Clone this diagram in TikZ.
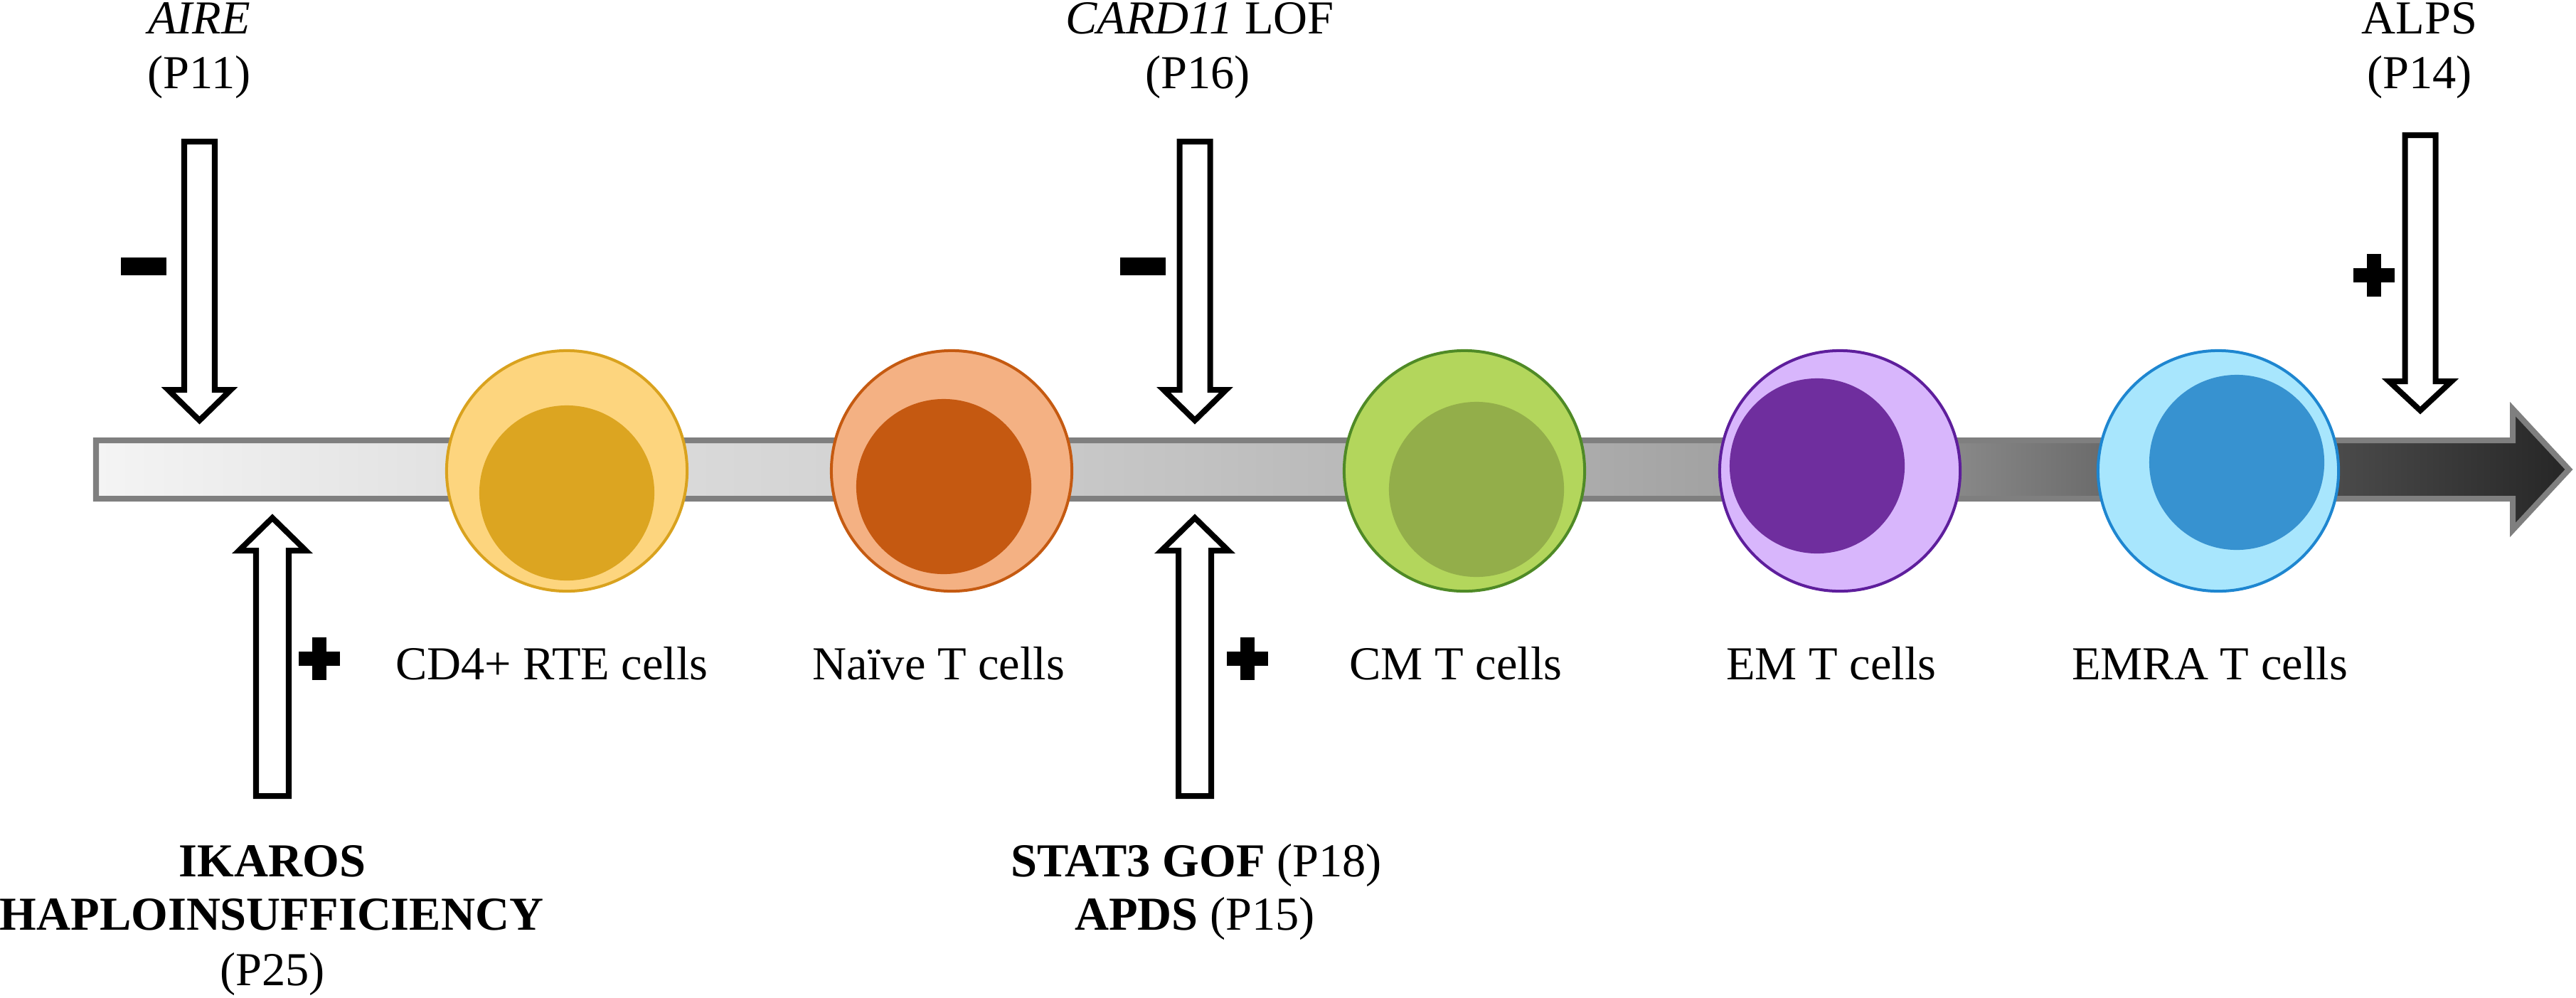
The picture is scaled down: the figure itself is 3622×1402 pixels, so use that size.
\documentclass[tikz,border=0pt]{standalone}
\usepackage{fontspec}
\setmainfont{Liberation Serif}
\definecolor{g0}{HTML}{F4F4F4}
\definecolor{g1}{HTML}{E2E2E2}
\definecolor{g2}{HTML}{D4D4D4}
\definecolor{g3}{HTML}{C2C2C2}
\definecolor{g4}{HTML}{ABABAB}
\definecolor{g5}{HTML}{A2A2A2}
\definecolor{g6}{HTML}{878787}
\definecolor{g7}{HTML}{6C6C6C}
\definecolor{g8}{HTML}{4A4A4A}
\definecolor{g9}{HTML}{262626}
\definecolor{barline}{HTML}{7F7F7F}
\definecolor{cdA}{HTML}{FDD57E}\definecolor{cdB}{HTML}{D9A21E}\definecolor{cdC}{HTML}{DCA521}
\definecolor{nvA}{HTML}{F4B183}\definecolor{nvB}{HTML}{C55A11}\definecolor{nvC}{HTML}{C55911}
\definecolor{cmA}{HTML}{B3D65C}\definecolor{cmB}{HTML}{4F8A26}\definecolor{cmC}{HTML}{93AE4A}
\definecolor{emA}{HTML}{D8B6FC}\definecolor{emB}{HTML}{5E1E9C}\definecolor{emC}{HTML}{6F2E9E}
\definecolor{erA}{HTML}{A8E6FD}\definecolor{erB}{HTML}{1E86D0}\definecolor{erC}{HTML}{3792D0}
\pgfdeclarehorizontalshading{barshade}{100bp}{color(0bp)=(g0); color(25bp)=(g0); color(32.06bp)=(g1); color(39.83bp)=(g2); color(47.22bp)=(g3); color(55.27bp)=(g4); color(57.82bp)=(g5); color(62.74bp)=(g6); color(65.48bp)=(g7); color(70.37bp)=(g8); color(75bp)=(g9); color(100bp)=(g9)}
\newcommand\downblk[4]{\draw[blk] ({#1-21.5},#2) -- ({#1+21.5},#2) -- ({#1+21.5},#3) -- ({#1+44},#3) -- (#1,#4) -- ({#1-44},#3) -- ({#1-21.5},#3) -- cycle;}
\newcommand\upblk[4]{\draw[blk] ({#1-23},#2) -- ({#1+23},#2) -- ({#1+23},#3) -- ({#1+47},#3) -- (#1,#4) -- ({#1-47},#3) -- ({#1-23},#3) -- cycle;}
\begin{document}
\begin{tikzpicture}[x=0.01cm,y=-0.01cm,
  lbl/.style={font=\fontsize{18.9pt}{22pt}\selectfont, inner sep=0pt, anchor=base},
  blk/.style={draw=black, fill=white, line width=2.28pt, line join=miter},
  cellout/.style={circle, line width=1.14pt, minimum size=3.38cm, inner sep=0pt},
  nucleus/.style={circle, minimum size=2.46cm, inner sep=0pt},
  plussign/.pic={\fill (-29,-10) rectangle (29,10); \fill (-10,-30) rectangle (10,30);},
  minussign/.pic={\fill (-32,-12.5) rectangle (32,12.5);}]
\useasboundingbox (0,0) rectangle (3622,1402);
% main gradient arrow
\path[draw=barline, line width=2.28pt, line join=miter, shade, shading=barshade]
  (135,619) -- (3533,619) -- (3533,575) -- (3612,660) -- (3533,745) -- (3533,701) -- (135,701) -- cycle;
% cells
\node[cellout, draw=cdB, fill=cdA] (cd4) at (797,662) {};
\node[nucleus, fill=cdC] (cd4n) at (797,693) {};
\node[cellout, draw=nvB, fill=nvA] (nv) at (1338,662) {};
\node[nucleus, fill=nvC] (nvn) at (1327,684) {};
\node[cellout, draw=cmB, fill=cmA] (cm) at (2059,662) {};
\node[nucleus, fill=cmC] (cmn) at (2076,688) {};
\node[cellout, draw=emB, fill=emA] (em) at (2587,662) {};
\node[nucleus, fill=emC] (emn) at (2555,655) {};
\node[cellout, draw=erB, fill=erA] (er) at (3119,662) {};
\node[nucleus, fill=erC] (ern) at (3145,650) {};
% block arrows
\downblk{280.5}{199}{548}{591}
\downblk{1680}{199}{548}{591}
\downblk{3403}{190}{536}{577}
\upblk{383}{1119}{774}{728}
\upblk{1680}{1119}{774}{728}
% signs
\pic at (202,374.5) {minussign};
\pic at (1607,374.5) {minussign};
\pic at (448.5,926) {plussign};
\pic at (1753.5,926) {plussign};
\pic at (3338,387) {plussign};
% top labels
\node[lbl] (aire) at (280,47) {\textit{AIRE}};
\node[lbl] (p11) at (280,124) {(P11)};
\node[lbl] (card) at (1687,47) {\textit{CARD11} LOF};
\node[lbl] (p16) at (1684,124) {(P16)};
\node[lbl] (alps) at (3402,47) {ALPS};
\node[lbl] (p14) at (3402,124) {(P14)};
% bottom labels
\node[lbl] (ik1) at (383,1232) {\textbf{IKAROS}};
\node[lbl] (ik2) at (382,1307) {\textbf{HAPLOINSUFFICIENCY}};
\node[lbl] (ik3) at (383,1385) {(P25)};
\node[lbl] (st1) at (1682,1232) {\textbf{STAT3 GOF} (P18)};
\node[lbl] (st2) at (1680,1307) {\textbf{APDS} (P15)};
% cell labels
\node[lbl] (l1) at (776,955) {CD4+ RTE cells};
\node[lbl] (l2) at (1320,955) {Naïve T cells};
\node[lbl] (l3) at (2047,955) {CM T cells};
\node[lbl] (l4) at (2575,955) {EM T cells};
\node[lbl] (l5) at (3107,955) {EMRA T cells};
\end{tikzpicture}
\end{document}
